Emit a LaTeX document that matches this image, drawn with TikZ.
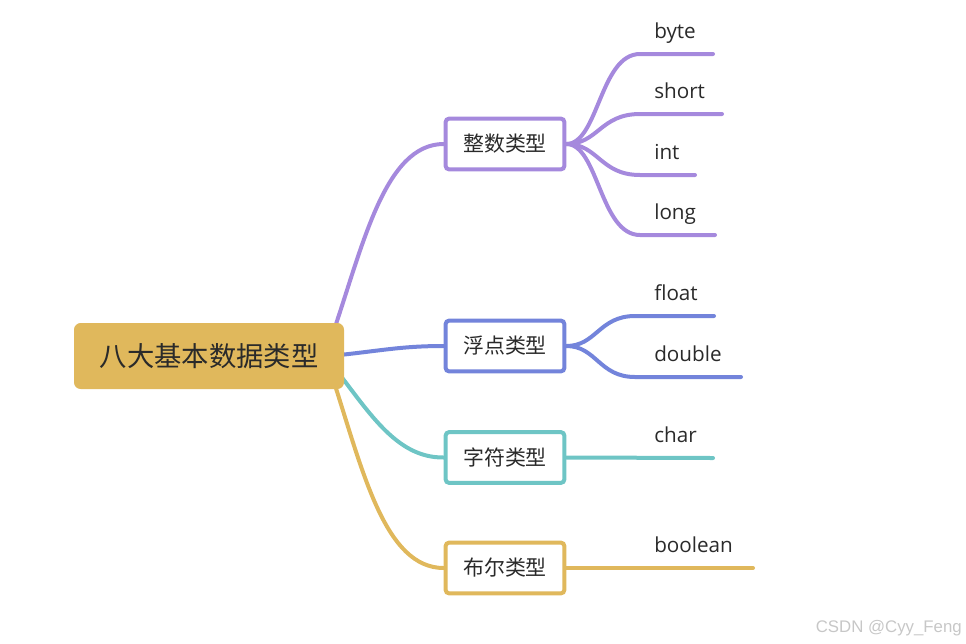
\documentclass[tikz,border=0pt]{standalone}
\usepackage{fontspec}
\setmainfont{Open Sans}
\newfontfamily\cjk{Noto Sans CJK SC}
\newfontfamily\wm{Liberation Sans}
\usetikzlibrary{backgrounds}
\definecolor{cpur}{HTML}{A589DD}
\definecolor{cblu}{HTML}{7384DB}
\definecolor{ctea}{HTML}{6EC5C5}
\definecolor{cgol}{HTML}{E0B85C}
\definecolor{ctxt}{HTML}{2A2A2A}
\tikzset{
  rootbox/.style={fill=cgol, rounded corners=5pt, minimum width=202.5pt, minimum height=49.5pt,
    inner sep=0pt, font=\cjk\fontsize{20.5pt}{24pt}\selectfont, text=ctxt},
  catbox/.style={draw=#1, fill=white, line width=3pt, rounded corners=2.5pt, minimum width=89pt,
    minimum height=38pt, inner sep=0pt, font=\cjk\fontsize{15.7pt}{18pt}\selectfont, text=ctxt},
  leaftext/.style={anchor=base west, inner sep=0pt, font=\fontsize{15.5pt}{18pt}\selectfont, text=ctxt},
  link/.style={draw=#1, line width=3pt, line cap=round}
}
\begin{document}
\begin{tikzpicture}[x=0.75pt, y=-0.75pt]
\useasboundingbox (0,0) rectangle (966,643);
% root
\node[rootbox] (root) at (209,356) {八大基本数据类型};
% categories
\node[catbox=cpur] (zs) at (505,144) {整数类型};
\node[catbox=cblu] (fd) at (505,346) {浮点类型};
\node[catbox=ctea] (zf) at (505,457.5) {字符类型};
\node[catbox=cgol] (be) at (505,568) {布尔类型};
% root start points
\coordinate (r1) at (333,333);
\coordinate (r2) at (330,356);
\coordinate (r3) at (330,362);
\coordinate (r4) at (333,379);
\begin{scope}[on background layer]
\draw[link=cpur] (r1) .. controls (363,245) and (385,144) .. (zs.west);
\draw[link=cblu] (r2) .. controls (380,351) and (400,346) .. (fd.west);
\draw[link=ctea] (r3) .. controls (368,410) and (395,458) .. (zf.west);
\draw[link=cgol] (r4) .. controls (363,472) and (385,568) .. (be.west);
\end{scope}
% leaf coordinates
\coordinate (byteS) at (640,54);  \coordinate (byteE) at (713,54);
\coordinate (shortS) at (640,114); \coordinate (shortE) at (722,114);
\coordinate (intS) at (640,175);  \coordinate (intE) at (695,175);
\coordinate (longS) at (640,235); \coordinate (longE) at (715,235);
\coordinate (floatS) at (635,316); \coordinate (floatE) at (714,316);
\coordinate (doubleS) at (635,377); \coordinate (doubleE) at (741,377);
\coordinate (charE) at (713,458);
\coordinate (boolE) at (753,568);
% leaf links
\draw[link=cpur] (zs.east) .. controls +(32,0) and +(-40,0) .. (byteS) -- (byteE);
\draw[link=cpur] (zs.east) .. controls +(32,0) and +(-40,0) .. (shortS) -- (shortE);
\draw[link=cpur] (zs.east) .. controls +(32,0) and +(-40,0) .. (intS) -- (intE);
\draw[link=cpur] (zs.east) .. controls +(32,0) and +(-40,0) .. (longS) -- (longE);
\draw[link=cblu] (fd.east) .. controls +(30,0) and +(-36,0) .. (floatS) -- (floatE);
\draw[link=cblu] (fd.east) .. controls +(30,0) and +(-36,0) .. (doubleS) -- (doubleE);
\draw[link=ctea] (zf.east) -- (charE);
\draw[link=cgol] (be.east) -- (boolE);
% leaf texts
\node[leaftext] (tbyte) at (654,38) {byte};
\node[leaftext] (tshort) at (654,98) {short};
\node[leaftext] (tint) at (654,159) {int};
\node[leaftext] (tlong) at (654,219) {long};
\node[leaftext] (tfloat) at (654,300) {float};
\node[leaftext] (tdouble) at (654,361) {double};
\node[leaftext] (tchar) at (654,442) {char};
\node[leaftext] (tbool) at (654,552) {boolean};
% watermark
\node[anchor=base east, inner sep=0pt, text=black!22, font=\wm\fontsize{12.6pt}{14pt}\selectfont] (wmk) at (962,632) {CSDN @Cyy\_Feng};
\end{tikzpicture}
\end{document}
